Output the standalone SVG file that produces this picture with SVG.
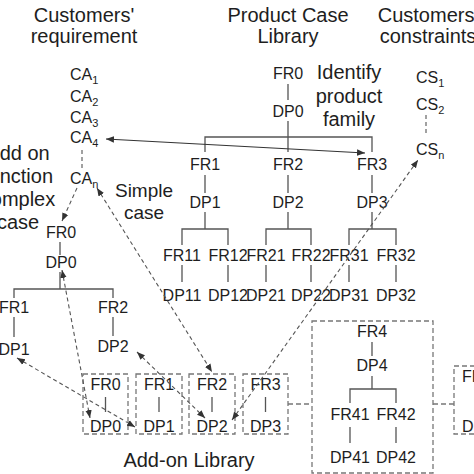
<svg xmlns="http://www.w3.org/2000/svg" width="474" height="474" viewBox="0 0 474 474">
<style>
text{font-family:"Liberation Sans",Arial,sans-serif;fill:#1e1e1e}
.t{font-size:20px;text-anchor:middle}
.n{font-size:16px;text-anchor:middle}
.c{font-size:16px}
.s{font-size:11px}
.tr{stroke:#555;stroke-width:1.3;fill:none}
.d{stroke:#555;stroke-width:1.1;fill:none;stroke-dasharray:4 3}
.bx{stroke:#777;stroke-width:1.3;fill:none;stroke-dasharray:5 3}
</style>
<defs>
<marker id="ah" viewBox="0 0 10 10" refX="10" refY="5" markerWidth="8" markerHeight="8" markerUnits="userSpaceOnUse" orient="auto-start-reverse">
<path d="M0,1 L10,5 L0,9 z" fill="#333"/>
</marker>
</defs>
<rect width="474" height="474" fill="#fff"/>

<g id="titles">
<text class="t" x="84" y="22">Customers'</text>
<text class="t" x="84" y="43">requirement</text>
<text class="t" x="288" y="22">Product Case</text>
<text class="t" x="288" y="43">Library</text>
<text class="t" x="428" y="22">Customers'</text>
<text class="t" x="428" y="43">constraints</text>
<text class="t" x="349" y="79">Identify</text>
<text class="t" x="349" y="103">product</text>
<text class="t" x="349" y="126">family</text>
<text class="t" x="18" y="160">Add on</text>
<text class="t" x="18" y="183">function</text>
<text class="t" x="18" y="206">complex</text>
<text class="t" x="18" y="229">case</text>
<text class="t" x="144" y="197" style="font-size:19px">Simple</text>
<text class="t" x="144" y="219" style="font-size:19px">case</text>
<text class="t" x="189" y="467">Add-on Library</text>
</g>

<g id="ca-list">
<text class="c" x="70" y="80">CA<tspan class="s" dy="4">1</tspan></text>
<text class="c" x="70" y="102">CA<tspan class="s" dy="4">2</tspan></text>
<text class="c" x="70" y="123">CA<tspan class="s" dy="4">3</tspan></text>
<text class="c" x="70" y="143">CA<tspan class="s" dy="4">4</tspan></text>
<text class="c" x="70" y="184">CA<tspan class="s" dy="4">n</tspan></text>
</g>

<g id="cs-list">
<text class="c" x="416" y="83">CS<tspan class="s" dy="4">1</tspan></text>
<text class="c" x="416" y="110">CS<tspan class="s" dy="4">2</tspan></text>
<text class="c" x="416" y="155">CS<tspan class="s" dy="4">n</tspan></text>
</g>

<g id="case-tree">
<text class="n" x="288" y="79">FR0</text>
<text class="n" x="288" y="117">DP0</text>
<text class="n" x="205" y="170">FR1</text>
<text class="n" x="205" y="208">DP1</text>
<text class="n" x="288" y="170">FR2</text>
<text class="n" x="288" y="208">DP2</text>
<text class="n" x="372" y="170">FR3</text>
<text class="n" x="372" y="208">DP3</text>
<text class="n" x="182" y="261">FR11</text>
<text class="n" x="228" y="261">FR12</text>
<text class="n" x="266" y="261">FR21</text>
<text class="n" x="311" y="261">FR22</text>
<text class="n" x="349" y="261">FR31</text>
<text class="n" x="396" y="261">FR32</text>
<text class="n" x="182" y="301">DP11</text>
<text class="n" x="228" y="301">DP12</text>
<text class="n" x="266" y="301">DP21</text>
<text class="n" x="311" y="301">DP22</text>
<text class="n" x="349" y="301">DP31</text>
<text class="n" x="396" y="301">DP32</text>
<path class="tr" d="M288,84V100 M288,121V152 M205,152V137H372V152 M205,175V193 M288,175V193 M372,175V193 M205,212V229 M182,245V229H228V245 M288,212V229 M266,245V229H311V245 M372,212V229 M349,245V229H396V245 M182,265V282 M228,265V282 M266,265V282 M311,265V282 M349,265V282 M396,265V282"/>
</g>

<g id="addon-tree">
<text class="n" x="61" y="238">FR0</text>
<text class="n" x="61" y="268">DP0</text>
<text class="n" x="14" y="313">FR1</text>
<text class="n" x="14" y="355">DP1</text>
<text class="n" x="113" y="313">FR2</text>
<text class="n" x="113" y="352">DP2</text>
<path class="tr" d="M60,242V255 M60,272V289 M14,298V289H113V298 M14,317V337 M113,317V336"/>
</g>

<g id="lib0">
<rect class="bx" x="83" y="374" width="45" height="60"/>
<text class="n" x="105.5" y="390">FR0</text>
<text class="n" x="105.5" y="432">DP0</text>
<path class="tr" d="M105.5,397V412"/>
</g>
<g id="lib1">
<rect class="bx" x="136" y="374" width="46" height="60"/>
<text class="n" x="159" y="390">FR1</text>
<text class="n" x="159" y="432">DP1</text>
<path class="tr" d="M159,397V412"/>
</g>
<g id="lib2">
<rect class="bx" x="189" y="374" width="46" height="60"/>
<text class="n" x="212" y="390">FR2</text>
<text class="n" x="212" y="432">DP2</text>
<path class="tr" d="M212,397V412"/>
</g>
<g id="lib3">
<rect class="bx" x="243" y="374" width="45" height="60"/>
<text class="n" x="265.5" y="390">FR3</text>
<text class="n" x="265.5" y="432">DP3</text>
<path class="tr" d="M265.5,397V412"/>
</g>
<g id="lib4">
<rect class="bx" x="312" y="321" width="121" height="152"/>
<text class="n" x="372" y="337">FR4</text>
<text class="n" x="372" y="371">DP4</text>
<text class="n" x="350" y="420">FR41</text>
<text class="n" x="396" y="420">FR42</text>
<text class="n" x="350" y="463">DP41</text>
<text class="n" x="396" y="463">DP42</text>
<path class="tr" d="M372,342V356 M372,376V389 M350,403V389H396V403 M350,427V443 M396,427V443"/>
</g>
<g id="lib5">
<rect class="bx" x="454" y="366" width="40" height="68"/>
<text class="c" x="462" y="382">FR</text>
<text class="c" x="462" y="432">DP</text>
</g>

<g id="connectors">
<line x1="106" y1="139" x2="365" y2="153" stroke="#333" stroke-width="1.2" marker-start="url(#ah)" marker-end="url(#ah)"/>
<line class="d" x1="82" y1="150" x2="82" y2="170"/>
<line class="d" x1="426" y1="115" x2="426" y2="136"/>
<line class="d" x1="77" y1="188" x2="62" y2="221" marker-end="url(#ah)"/>
<line class="d" x1="97" y1="188" x2="212" y2="372" marker-start="url(#ah)" marker-end="url(#ah)"/>
<line class="d" x1="62" y1="270" x2="90" y2="418" marker-start="url(#ah)" marker-end="url(#ah)"/>
<line class="d" x1="17" y1="358" x2="135" y2="427" marker-start="url(#ah)" marker-end="url(#ah)"/>
<line class="d" x1="137" y1="352" x2="205" y2="418" marker-start="url(#ah)" marker-end="url(#ah)"/>
<line class="d" x1="232" y1="420" x2="418" y2="160" marker-start="url(#ah)" marker-end="url(#ah)"/>
<line class="bx" x1="288" y1="404" x2="312" y2="404"/>
<line class="bx" x1="433" y1="404" x2="454" y2="404"/>
</g>
</svg>
